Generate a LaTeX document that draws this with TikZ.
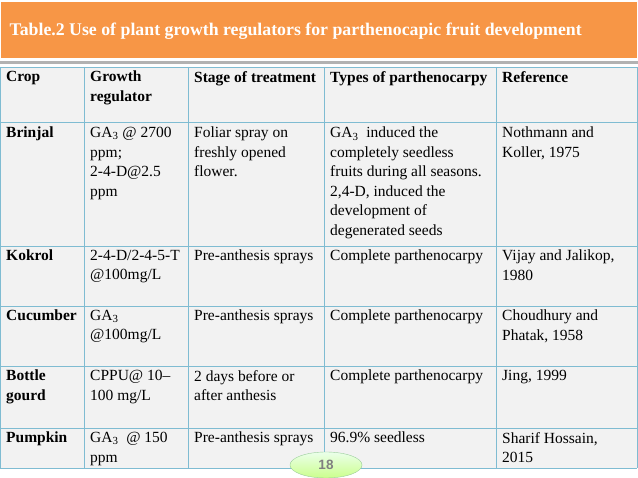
\documentclass[tikz,border=0pt]{standalone}
\usepackage{fontspec}
\setmainfont{Liberation Serif}
\newfontfamily\pgsans{Liberation Sans}
\definecolor{orng}{HTML}{F79646}
\definecolor{gridc}{HTML}{7FBCD2}
\definecolor{cellbg}{HTML}{F2F2F2}
\begin{document}
\begin{tikzpicture}[x=1pt,y=-1pt,
  cell/.style={anchor=north west,inner sep=0pt,align=left,font=\fontsize{15.5}{19.5}\selectfont},
  hd/.style={cell,font=\fontsize{15.5}{19.5}\selectfont\bfseries}]
\useasboundingbox (0,0) rectangle (638,478);
\fill[white] (0,0) rectangle (638,478);
\fill[orng] (1,2) rectangle (637,58);
\node[anchor=west,text=white,font=\fontsize{17.8}{20}\selectfont\bfseries] (title) at (6,31) {Table.2 Use of plant growth regulators for parthenocapic fruit development};
\fill[gray!60] (0,61) rectangle (638,64);
\fill[cellbg] (0,67) rectangle (637,468);
\foreach \yy in {67,122,246,306,366,428,468} \draw[gridc,line width=0.8pt] (0,\yy) -- (637,\yy);
\foreach \xx in {0,84,188,324,496,637} \draw[gridc,line width=0.8pt] (\xx,67) -- (\xx,468);
% header
\node[hd] (h1) at (6,71) {Crop};
\node[hd,text width=92pt] (h2) at (90,71) {Growth\\regulator};
\node[hd] (h3) at (194,71) {Stage of treatment};
\node[hd] (h4) at (330,71) {Types of parthenocarpy};
\node[hd] (h5) at (502,71) {Reference};
% rows
\node[hd] (c1) at (6,127) {Brinjal};
\node[cell] (g1) at (90,127) {GA\textsubscript{3} @ 2700\\ppm;\\2-4-D@2.5\\ppm};
\node[cell] (s1) at (194,127) {Foliar spray on\\freshly opened\\flower.};
\node[cell] (t1) at (330,127) {GA\textsubscript{3}~ induced the\\completely seedless\\fruits during all seasons.\\2,4-D, induced the\\development of\\degenerated seeds};
\node[cell] (r1) at (502,127) {Nothmann and\\Koller, 1975};
\node[hd] (c2) at (6,250) {Kokrol};
\node[cell] (g2) at (90,250) {2-4-D/2-4-5-T\\@100mg/L};
\node[cell] (s2) at (194,250) {Pre-anthesis sprays};
\node[cell] (t2) at (330,250) {Complete parthenocarpy};
\node[cell] (r2) at (502,250) {Vijay and Jalikop,\\1980};
\node[hd] (c3) at (6,310) {Cucumber};
\node[cell] (g3) at (90,310) {GA\textsubscript{3}\\@100mg/L};
\node[cell] (s3) at (194,310) {Pre-anthesis sprays};
\node[cell] (t3) at (330,310) {Complete parthenocarpy};
\node[cell] (r3) at (502,310) {Choudhury and\\Phatak, 1958};
\node[hd] (c4) at (6,370) {Bottle\\gourd};
\node[cell] (g4) at (90,370) {CPPU@ 10--\\100 mg/L};
\node[cell] (s4) at (194,370) {2 days before or\\after anthesis};
\node[cell] (t4) at (330,370) {Complete parthenocarpy};
\node[cell] (r4) at (502,370) {Jing, 1999};
\node[hd] (c5) at (6,432) {Pumpkin};
\node[cell] (g5) at (90,432) {GA\textsubscript{3}~ @ 150\\ppm};
\node[cell] (s5) at (194,432) {Pre-anthesis sprays};
\node[cell] (t5) at (330,432) {96.9\% seedless};
\node[cell] (r5) at (502,432) {Sharif Hossain,\\2015};
% page number
\shade[top color=green!8!white,bottom color=green!45!yellow!45!white,draw=green!50!black!40] (326,465) ellipse (36 and 13);
\node[font=\pgsans\fontsize{13.5}{15}\selectfont\bfseries,text=gray] (pg) at (326,465) {18};
\end{tikzpicture}
\end{document}
